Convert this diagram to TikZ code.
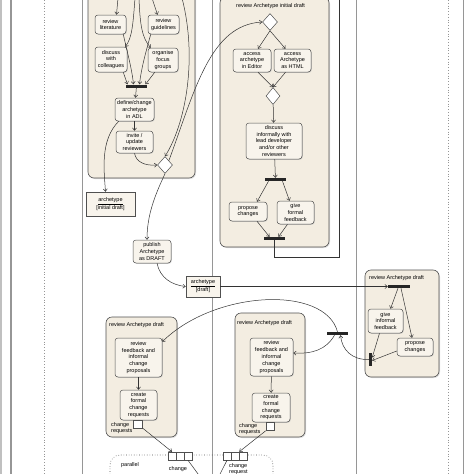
\documentclass[tikz,border=0pt]{standalone}
\usepackage{fontspec}
\setmainfont{Liberation Sans}
\usetikzlibrary{shapes.geometric,arrows.meta,shadows}
\definecolor{regfill}{RGB}{243,237,225}
\definecolor{actfill}{RGB}{248,244,236}
\definecolor{edgegray}{RGB}{80,80,80}
\definecolor{lanegray}{RGB}{150,150,150}

\begin{document}
\begin{tikzpicture}[x=1pt,y=-1pt,
  every node/.style={font=\fontsize{5.5}{6.8}\selectfont},
  act/.style={draw=edgegray,fill=actfill,rounded corners=3pt,align=center,inner sep=0.3pt,line width=0.5pt,
    drop shadow={shadow xshift=0.8pt,shadow yshift=-0.8pt,fill=black!30}},
  obj/.style={draw=edgegray,fill=actfill,align=center,inner sep=0.3pt,line width=0.5pt,
    drop shadow={shadow xshift=0.8pt,shadow yshift=-0.8pt,fill=black!30}},
  region/.style={draw=edgegray,fill=regfill,rounded corners=6pt,line width=0.6pt,
    drop shadow={shadow xshift=1pt,shadow yshift=-1pt,fill=black!25}},
  bar/.style={fill=black!85,inner sep=0pt,minimum width=21pt,minimum height=3pt},
  dec/.style={diamond,draw=edgegray,fill=white,inner sep=0pt,minimum width=15pt,minimum height=17pt,line width=0.5pt},
  pin/.style={draw=edgegray,fill=white,inner sep=0pt,minimum width=8pt,minimum height=8pt,line width=0.5pt},
  flow/.style={draw=black!80,line width=0.5pt,-{Straight Barb[length=2.5pt,width=4pt]}},
  link/.style={draw=black!80,line width=0.5pt},
  lane/.style={draw=lanegray,line width=0.8pt}]
  \useasboundingbox (0,0) rectangle (474,474);
  \clip (0,0) rectangle (474,474);

  % swimlanes
  \draw[lanegray!60,line width=2pt] (1,0) -- (1,474);
  \draw[lane,line width=1.2pt] (11,0) -- (11,474);
  \draw[lanegray,dotted,line width=0.8pt] (44,0) -- (44,474);
  \draw[lane] (82,0) -- (82,474);
  \draw[lane] (212,0) -- (212,474);
  \draw[lane] (356,0) -- (356,474);
  \draw[lanegray,dotted,line width=0.8pt] (448,0) -- (448,474);
  \draw[lane] (463,0) -- (463,474);

  % activity regions
  \draw[region] (88,-10) rectangle (195,178);
  \draw[region] (220,-3) rectangle (329,247);
  \draw[region] (365,270) rectangle (439,377);
  \draw[region] (106,317) rectangle (177,437);
  \draw[region] (235,313) rectangle (305,437);
  \node[anchor=west,inner sep=0pt] (ttlinit) at (236,6) {review Archetype initial draft};
  \node[anchor=west,inner sep=0pt] (ttlC) at (369,278) {review Archetype draft};
  \node[anchor=west,inner sep=0pt] (ttlA) at (109,325) {review Archetype draft};
  \node[anchor=west,inner sep=0pt] (ttlB) at (237,323) {review Archetype draft};

  % expansion region
  \draw[edgegray,dotted,line width=0.6pt,rounded corners=10pt] (110,490) -- (110,455) -- (273,455) -- (273,490);
  \node (kwpar) at (130,465) {parallel};

  % build the draft
  \node[act,minimum width=31pt,minimum height=19pt] (revlit) at (110.5,24.5) {review\\literature};
  \node[act,minimum width=31pt,minimum height=19pt] (revguide) at (163.5,24.5) {review\\guidelines};
  \node[act,minimum width=32pt,minimum height=25pt] (discoll) at (111,59.5) {discuss\\with\\colleagues};
  \node[act,minimum width=30pt,minimum height=24pt] (orgfocus) at (163,60) {organise\\focus\\groups};
  \node[bar] (joinA) at (136.5,86) {};
  \node[act,minimum width=39pt,minimum height=23pt] (defarch) at (134.5,109.5) {define/change\\archetype\\in ADL};
  \node[act,minimum width=37pt,minimum height=22pt] (invite) at (134.5,142) {invite /\\update\\reviewers};
  \node[dec] (decA) at (165,165) {};
  \node[obj,minimum width=49pt,minimum height=24pt] (objinit) at (110.5,204) {\underline{archetype}\\{[initial draft]}};
  \node[act,minimum width=38pt,minimum height=23pt] (publish) at (152,251.5) {publish\\Archetype\\as DRAFT};
  \node[obj,minimum width=34pt,minimum height=21pt] (objdraft) at (203,286.5) {\underline{archetype}\\{[draft]}};

  % review initial draft
  \node[dec] (decB) at (270,22) {};
  \node[act,minimum width=38pt,minimum height=23pt] (accedit) at (252,60.5) {access\\archetype\\in Editor};
  \node[act,minimum width=37pt,minimum height=23pt] (acchtml) at (292.5,60.5) {access\\Archetype\\as HTML};
  \node[dec,minimum width=14pt] (mergeB) at (273,96) {};
  \node[act,minimum width=56pt,minimum height=36pt] (discinf) at (274,141) {discuss\\informally with\\lead developer\\and/or other\\reviewers};
  \node[bar] (forkB) at (275.5,179.5) {};
  \node[act,minimum width=38pt,minimum height=19pt] (propB) at (248,211.5) {propose\\changes};
  \node[act,minimum width=37pt,minimum height=23pt] (giveB) at (295.5,212.5) {give\\formal\\feedback};
  \node[bar] (joinB) at (274.5,238.5) {};
  \coordinate (loopCorner) at (339,257);
  \coordinate (loopTop) at (339,-2);

  % review draft (right lane)
  \node[bar,minimum width=22pt] (forkC) at (399,286.5) {};
  \node[act,minimum width=35pt,minimum height=24pt] (giveinf) at (385.5,321) {give\\informal\\feedback};
  \node[act,minimum width=36pt,minimum height=18pt] (propC) at (415,347) {propose\\changes};
  \node[bar,minimum width=3pt,minimum height=13pt] (joinC) at (370.5,359.5) {};
  \node[bar] (forkD) at (337.5,333.5) {};

  % review draft (two lanes)
  \node[act,minimum width=47pt,minimum height=39pt] (revfbA) at (138.5,357.5) {review\\feedback and\\informal\\change\\proposals};
  \node[act,minimum width=37pt,minimum height=30pt] (createA) at (138.5,405) {create\\formal\\change\\requests};
  \node[pin,minimum width=9pt] (pinA) at (138,424) {};
  \node[align=left,anchor=west,inner sep=0pt] (lblA) at (111,428) {change\\requests};
  \node[act,minimum width=43pt,minimum height=38pt] (revfbB) at (271.5,357) {review\\feedback and\\informal\\change\\proposals};
  \node[act,minimum width=38pt,minimum height=29pt] (createB) at (271,407.5) {create\\formal\\change\\requests};
  \node[pin] (pinB) at (270,426.5) {};
  \node[align=left,anchor=west,inner sep=0pt] (lblB) at (239,429) {change\\requests};

  \node[pin] (expA1) at (172,456) {};
  \node[pin] (expA2) at (180,456) {};
  \node[pin] (expA3) at (188,456) {};
  \node[pin] (expB1) at (227,456) {};
  \node[pin] (expB2) at (235,456) {};
  \node[pin] (expB3) at (243,456) {};
  \node[anchor=north] (lblexpA) at (178,463) {change};
  \node[anchor=north west,align=left,inner sep=0pt] (lblexpB) at (229,463) {change\\request};
  \coordinate (outA) at (201,478);
  \coordinate (outB) at (218,478);

  % incoming from above
  \coordinate (inLit) at (118,-2);
  \coordinate (inDis) at (135,-2);
  \coordinate (inOrg) at (139,-2);
  \coordinate (inGuide) at (152,-2);
  \coordinate (inDec) at (182,-2);

  \draw[flow] (inLit) -- ([xshift=6pt]revlit.north);
  \draw[flow] (inGuide) -- ([xshift=-6pt]revguide.north);
  \draw[flow] (inDis) .. controls (133,25) and (132,38) .. ([xshift=-2pt]discoll.north east);
  \draw[flow] (inOrg) .. controls (140,25) and (142,38) .. ([xshift=3pt]orgfocus.north west);
  \draw[flow] ([xshift=-3pt]revlit.south east) .. controls (128,55) and (132,70) .. ([xshift=-3pt]joinA.north);
  \draw[flow] ([xshift=3pt]revguide.south west) .. controls (145,55) and (141,70) .. ([xshift=3pt]joinA.north);
  \draw[flow] ([xshift=-4pt]discoll.south east) -- ([xshift=-9pt]joinA.north);
  \draw[flow] ([xshift=7pt]orgfocus.south west) -- ([xshift=9pt]joinA.north);
  \draw[flow] (joinA) -- (defarch);
  \draw[flow] (defarch) -- (invite);
  \draw[flow] (invite.south) .. controls (136,162) and (145,166) .. (decA.west);
  \draw[flow] ([xshift=4pt]defarch.south west) .. controls (100,140) and (104,170) .. ([xshift=-5pt]objinit.north);
  \draw[flow] (inDec) .. controls (198,60) and (185,125) .. (decA.north);
  \draw[flow] (decA.south) .. controls (155,195) and (147,215) .. ([xshift=-5pt]publish.north);
  \draw[flow] (decA.north east) .. controls (195,90) and (210,25) .. (decB.west);
  \draw[flow] ([xshift=5pt]publish.south) .. controls (160,278) and (172,285) .. (objdraft.west);
  \draw[flow] (objdraft.east) -- (forkC.west);

  \draw[flow] (decB.south) -- ([xshift=6pt]accedit.north);
  \draw[flow] (decB.south) -- ([xshift=-7pt]acchtml.north);
  \draw[flow] ([xshift=6pt]accedit.south) -- (mergeB.north);
  \draw[flow] ([xshift=-7pt]acchtml.south) -- (mergeB.north);
  \draw[flow] (mergeB) -- (discinf);
  \draw[flow] (discinf) -- (forkB);
  \draw[flow] ([xshift=-7pt]forkB.south) -- ([xshift=9pt]propB.north);
  \draw[flow] ([xshift=7pt]forkB.south) -- ([xshift=-6pt]giveB.north);
  \draw[flow] ([xshift=9pt]propB.south) -- ([xshift=-5pt]joinB.north);
  \draw[flow] ([xshift=-8pt]giveB.south) -- ([xshift=4pt]joinB.north);
  \draw[link] (joinB.south) |- (loopCorner) -- (loopTop);

  \draw[flow] ([xshift=-1pt]forkC.south) -- ([xshift=5pt]giveinf.north);
  \draw[flow] ([xshift=2pt]forkC.south) -- ([xshift=-3pt]propC.north);
  \draw[flow] ([xshift=-6pt]giveinf.south) -- ([yshift=2pt]joinC.east);
  \draw[flow] ([yshift=-4pt]propC.west) -- ([yshift=-1pt]joinC.east);
  \draw[flow] (joinC.west) .. controls (352,360) and (342,350) .. ([xshift=3pt]forkD.south);
  \draw[flow] (forkD.north) .. controls (325,285) and (215,290) .. ([yshift=-4pt]revfbA.north east);
  \draw[flow] ([xshift=-3pt]forkD.south) .. controls (326,350) and (312,354) .. ([yshift=4pt]revfbB.east);

  \draw[flow] (revfbA) -- (createA);
  \draw[flow] (revfbB) -- (createB);
  \draw[flow] (pinA.south east) -- (expA1.north);
  \draw[flow] (pinB.south west) -- (expB2.north east);
  \draw[link] (expA3.south) -- (outA);
  \draw[link] (expB1.south) -- (outB);
\end{tikzpicture}
\end{document}
